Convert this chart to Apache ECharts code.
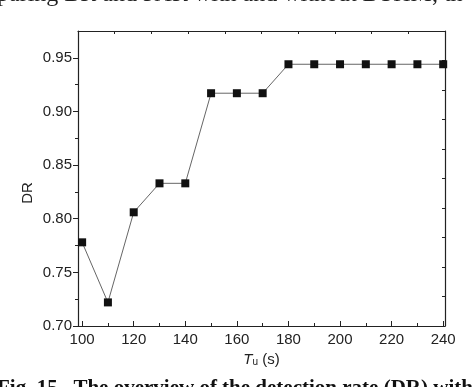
<!DOCTYPE html>
<html>
<head>
<meta charset="utf-8">
<script src="https://cdn.jsdelivr.net/npm/echarts@6/dist/echarts.min.js"></script>
<style>
html,body{margin:0;padding:0;background:#fff;}
#chart{width:474px;height:387px;}
</style>
</head>
<body>
<div id="chart"></div>
<script>
// detection rate vs Tu
var tu = [100, 110, 120, 130, 140, 150, 160, 170, 180, 190, 200, 210, 220, 230, 240];
var dr = [0.778, 0.722, 0.806, 0.833, 0.833, 0.917, 0.917, 0.917, 0.944, 0.944, 0.944, 0.944, 0.944, 0.944, 0.944];
var xMajor = [100, 120, 140, 160, 180, 200, 220, 240];
var xMinor = [110, 130, 150, 170, 190, 210, 230];
var yMajor = [0.70, 0.75, 0.80, 0.85, 0.90, 0.95];
var yMinor = [0.725, 0.775, 0.825, 0.875, 0.925];

var chart = echarts.init(document.getElementById('chart'));
var font = 'Liberation Sans, Arial, sans-serif';
var axisCol = '#222';

var points = [];
for (var i = 0; i < tu.length; i++) points.push([tu[i], dr[i]]);

option = {
	backgroundColor: '#fff',
	animation: false,
	grid: {left: 78, right: 29, top: 31, bottom: 61},
	graphic: [
		{type: 'text', left: -3, top: -17, style: {text: 'paring BR and FAR with and without BTHM, th', font: '24px "Liberation Serif", serif', fill: '#222'}},
		{type: 'text', left: -3, top: 378, style: {text: 'Fig. 15.  The overview of the detection rate (DR) with', font: 'bold 21px "Liberation Serif", serif', fill: '#111'}},
		{type: 'text', x: 28, y: 193, rotation: Math.PI / 2, style: {text: 'DR', font: '15px ' + font, fill: axisCol, align: 'center', verticalAlign: 'middle'}}
	],
	xAxis: [
		{
			type: 'value', position: 'bottom', min: 98.4, max: 240.7,
			splitLine: {show: false},
			axisLine: {lineStyle: {color: axisCol, width: 1.2}},
			axisTick: {inside: true, length: 5, customValues: xMajor, lineStyle: {color: axisCol}},
			axisLabel: {customValues: xMajor, margin: 6, color: axisCol, fontSize: 15, fontFamily: font},
			name: '{i|T}{s|u}{n| (s)}', nameLocation: 'middle', nameGap: 14,
			nameTextStyle: {
				verticalAlign: 'top',
				rich: {
					i: {fontStyle: 'italic', fontSize: 15, fontFamily: font, color: axisCol},
					n: {fontSize: 15, fontFamily: font, color: axisCol},
					s: {fontSize: 10, fontFamily: font, color: axisCol, verticalAlign: 'bottom', padding: [6, 0, 0, 0]}
				}
			}
		},
		{
			type: 'value', position: 'bottom', min: 98.4, max: 240.7,
			splitLine: {show: false}, axisLine: {show: false},
			axisTick: {inside: true, length: 3, customValues: xMinor, lineStyle: {color: axisCol}},
			axisLabel: {show: false}
		},
		{
			type: 'value', position: 'top', min: 0, max: 10, interval: 1,
			splitLine: {show: false},
			axisLine: {lineStyle: {color: axisCol, width: 1.2}},
			axisTick: {inside: true, length: 3, lineStyle: {color: axisCol}},
			axisLabel: {show: false}
		}
	],
	yAxis: [
		{
			type: 'value', position: 'left', min: 0.70, max: 0.975,
			splitLine: {show: false},
			axisLine: {show: true, lineStyle: {color: axisCol, width: 1.2}},
			axisTick: {show: true, length: 5, customValues: yMajor, lineStyle: {color: axisCol}},
			axisLabel: {customValues: yMajor, margin: 6, color: axisCol, fontSize: 15, fontFamily: font,
				formatter: function (v) { return v.toFixed(2); }}
		},
		{
			type: 'value', position: 'left', min: 0.70, max: 0.975,
			splitLine: {show: false}, axisLine: {show: false},
			axisTick: {show: true, length: 3, customValues: yMinor, lineStyle: {color: axisCol}},
			axisLabel: {show: false}
		},
		{
			type: 'value', position: 'right', min: 0, max: 10, interval: 1,
			splitLine: {show: false},
			axisLine: {show: true, lineStyle: {color: axisCol, width: 1.2}},
			axisTick: {show: true, inside: true, length: 3, lineStyle: {color: axisCol}},
			axisLabel: {show: false}
		}
	],
	series: [
		{
			type: 'line', xAxisIndex: 0, yAxisIndex: 0,
			data: points,
			symbol: 'rect', symbolSize: 8,
			itemStyle: {color: '#111'},
			lineStyle: {color: '#666', width: 1},
			z: 3
		}
	]
};
chart.setOption(option);
</script>
</body>
</html>
